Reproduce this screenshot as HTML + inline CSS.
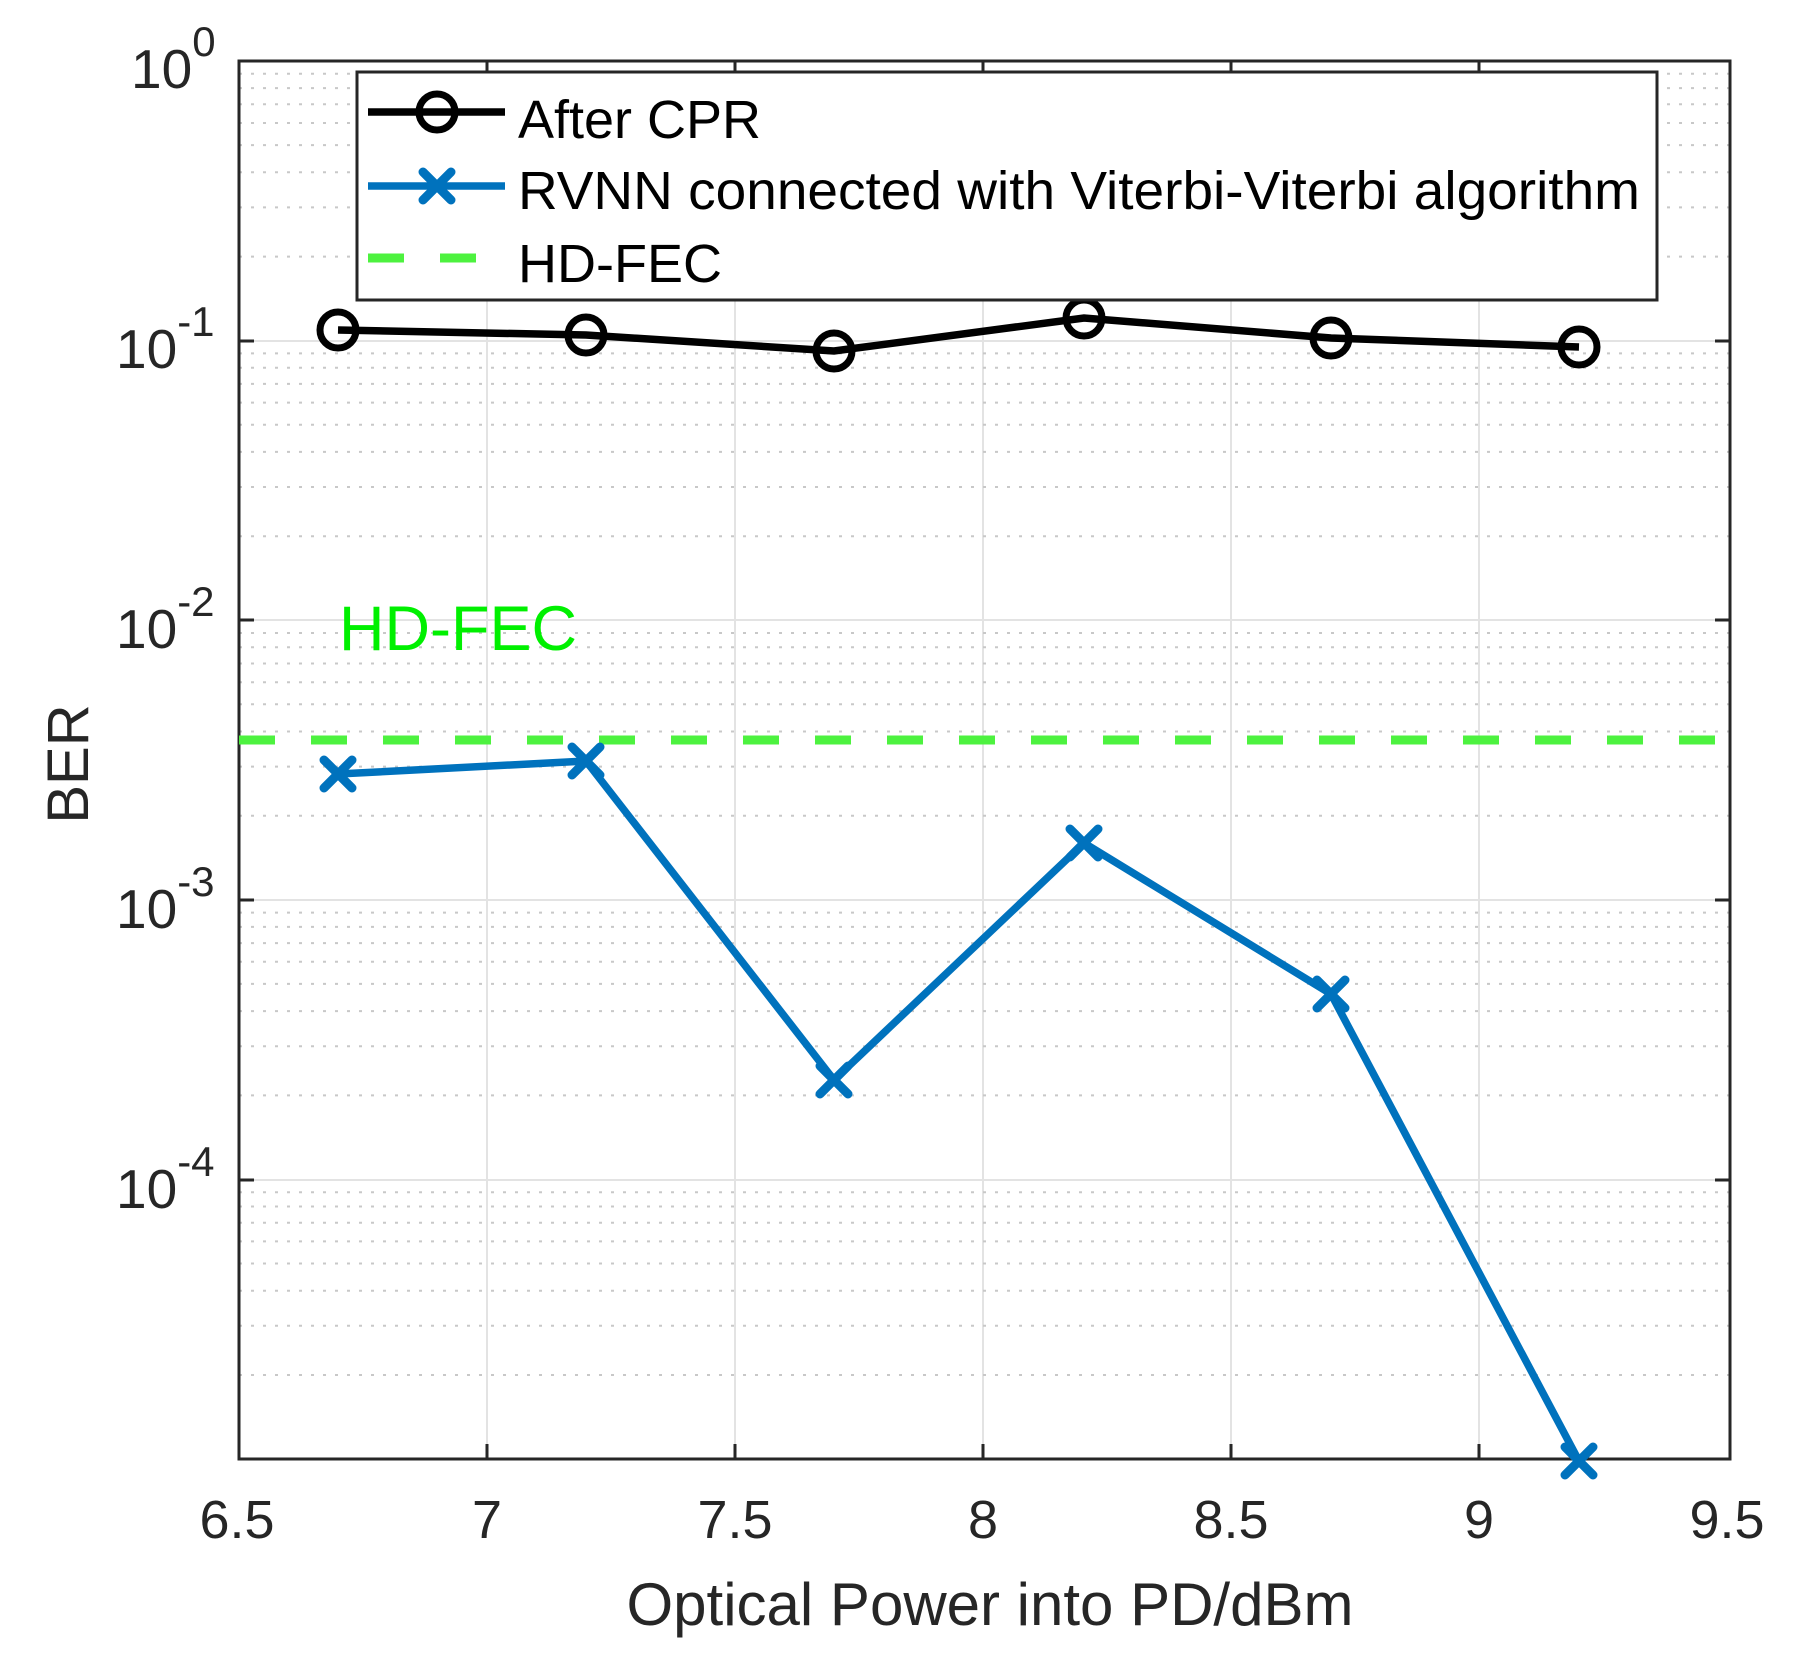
<!DOCTYPE html>
<html><head><meta charset="utf-8"><style>html,body{margin:0;padding:0;background:#fff}svg{display:block}</style></head>
<body>
<svg width="1803" height="1667" viewBox="0 0 1803 1667" xmlns="http://www.w3.org/2000/svg" font-family="Liberation Sans, Arial, sans-serif">
<rect width="1803" height="1667" fill="#fff"/>
<g stroke="#e3e3e3" stroke-width="2">
<line x1="487" y1="61" x2="487" y2="1459"/>
<line x1="735" y1="61" x2="735" y2="1459"/>
<line x1="983" y1="61" x2="983" y2="1459"/>
<line x1="1231" y1="61" x2="1231" y2="1459"/>
<line x1="1479" y1="61" x2="1479" y2="1459"/>
<line x1="239" y1="341" x2="1730" y2="341"/>
<line x1="239" y1="620" x2="1730" y2="620"/>
<line x1="239" y1="900" x2="1730" y2="900"/>
<line x1="239" y1="1180" x2="1730" y2="1180"/>
</g>
<g stroke="#c8c8c8" stroke-width="2" stroke-dasharray="3,9">
<line x1="239" x2="1730" y1="73.8" y2="73.8"/><line x1="239" x2="1730" y1="88.1" y2="88.1"/><line x1="239" x2="1730" y1="104.3" y2="104.3"/><line x1="239" x2="1730" y1="123.0" y2="123.0"/><line x1="239" x2="1730" y1="145.1" y2="145.1"/><line x1="239" x2="1730" y1="172.3" y2="172.3"/><line x1="239" x2="1730" y1="207.4" y2="207.4"/><line x1="239" x2="1730" y1="256.6" y2="256.6"/>
<line x1="239" x2="1730" y1="353.4" y2="353.4"/><line x1="239" x2="1730" y1="367.7" y2="367.7"/><line x1="239" x2="1730" y1="383.9" y2="383.9"/><line x1="239" x2="1730" y1="402.6" y2="402.6"/><line x1="239" x2="1730" y1="424.7" y2="424.7"/><line x1="239" x2="1730" y1="451.9" y2="451.9"/><line x1="239" x2="1730" y1="487.0" y2="487.0"/><line x1="239" x2="1730" y1="536.2" y2="536.2"/>
<line x1="239" x2="1730" y1="633.0" y2="633.0"/><line x1="239" x2="1730" y1="647.3" y2="647.3"/><line x1="239" x2="1730" y1="663.5" y2="663.5"/><line x1="239" x2="1730" y1="682.2" y2="682.2"/><line x1="239" x2="1730" y1="704.3" y2="704.3"/><line x1="239" x2="1730" y1="731.5" y2="731.5"/><line x1="239" x2="1730" y1="766.6" y2="766.6"/><line x1="239" x2="1730" y1="815.8" y2="815.8"/>
<line x1="239" x2="1730" y1="912.6" y2="912.6"/><line x1="239" x2="1730" y1="926.9" y2="926.9"/><line x1="239" x2="1730" y1="943.1" y2="943.1"/><line x1="239" x2="1730" y1="961.8" y2="961.8"/><line x1="239" x2="1730" y1="983.9" y2="983.9"/><line x1="239" x2="1730" y1="1011.1" y2="1011.1"/><line x1="239" x2="1730" y1="1046.2" y2="1046.2"/><line x1="239" x2="1730" y1="1095.4" y2="1095.4"/>
<line x1="239" x2="1730" y1="1192.2" y2="1192.2"/><line x1="239" x2="1730" y1="1206.5" y2="1206.5"/><line x1="239" x2="1730" y1="1222.7" y2="1222.7"/><line x1="239" x2="1730" y1="1241.4" y2="1241.4"/><line x1="239" x2="1730" y1="1263.5" y2="1263.5"/><line x1="239" x2="1730" y1="1290.7" y2="1290.7"/><line x1="239" x2="1730" y1="1325.8" y2="1325.8"/><line x1="239" x2="1730" y1="1375.0" y2="1375.0"/>
</g>
<rect x="239" y="61" width="1491" height="1398" fill="none" stroke="#262626" stroke-width="3"/>
<g stroke="#262626" stroke-width="3">
<line x1="487" y1="1459" x2="487" y2="1444"/><line x1="735" y1="1459" x2="735" y2="1444"/><line x1="983" y1="1459" x2="983" y2="1444"/><line x1="1231" y1="1459" x2="1231" y2="1444"/><line x1="1479" y1="1459" x2="1479" y2="1444"/>
<line x1="487" y1="61" x2="487" y2="76"/><line x1="735" y1="61" x2="735" y2="76"/><line x1="983" y1="61" x2="983" y2="76"/><line x1="1231" y1="61" x2="1231" y2="76"/><line x1="1479" y1="61" x2="1479" y2="76"/>
<line x1="239" y1="341" x2="254" y2="341"/><line x1="239" y1="620" x2="254" y2="620"/><line x1="239" y1="900" x2="254" y2="900"/><line x1="239" y1="1180" x2="254" y2="1180"/>
<line x1="1730" y1="341" x2="1715" y2="341"/><line x1="1730" y1="620" x2="1715" y2="620"/><line x1="1730" y1="900" x2="1715" y2="900"/><line x1="1730" y1="1180" x2="1715" y2="1180"/>
</g>
<g fill="#262626" font-size="54" text-anchor="middle">
<text x="237" y="1538">6.5</text><text x="487" y="1538">7</text><text x="735" y="1538">7.5</text><text x="983" y="1538">8</text><text x="1231" y="1538">8.5</text><text x="1479" y="1538">9</text><text x="1727" y="1538">9.5</text>
</g>
<g fill="#262626" font-size="55">
<text x="131" y="88">10<tspan font-size="42" dy="-32">0</tspan></text>
<text x="116" y="368">10<tspan font-size="42" dy="-32">-1</tspan></text>
<text x="116" y="648">10<tspan font-size="42" dy="-32">-2</tspan></text>
<text x="116" y="928">10<tspan font-size="42" dy="-32">-3</tspan></text>
<text x="116" y="1208">10<tspan font-size="42" dy="-32">-4</tspan></text>
</g>
<text x="990" y="1625" font-size="60" fill="#262626" text-anchor="middle">Optical Power into PD/dBm</text>
<text transform="translate(88,764) rotate(-90)" font-size="58" fill="#262626" text-anchor="middle">BER</text>
<line x1="239" y1="740" x2="1730" y2="740" stroke="#4df23f" stroke-width="9" stroke-dasharray="36,36"/>
<text x="339" y="650" font-size="63" fill="#00f000">HD-FEC</text>
<polyline points="338,330 586,335 834,351 1084,318 1331,338 1579,347" fill="none" stroke="#000" stroke-width="7.5"/>
<g fill="none" stroke="#000" stroke-width="7">
<circle cx="338" cy="330" r="18"/><circle cx="586" cy="335" r="18"/><circle cx="834" cy="351" r="18"/><circle cx="1084" cy="318" r="18"/><circle cx="1331" cy="338" r="18"/><circle cx="1579" cy="347" r="18"/>
</g>
<polyline points="338,774 586,761 834,1080 1084,843 1331,994 1579,1461" fill="none" stroke="#0072BD" stroke-width="7.5" stroke-linejoin="round"/>
<g stroke="#0072BD" stroke-width="9" stroke-linecap="round">
<path d="M324,760 l28,28 M352,760 l-28,28"/>
<path d="M572,747 l28,28 M600,747 l-28,28"/>
<path d="M820,1066 l28,28 M848,1066 l-28,28"/>
<path d="M1070,829 l28,28 M1098,829 l-28,28"/>
<path d="M1317,980 l28,28 M1345,980 l-28,28"/>
<path d="M1565,1447 l28,28 M1593,1447 l-28,28"/>
</g>
<rect x="357" y="72" width="1300" height="228" fill="#fff" stroke="#262626" stroke-width="3"/>
<line x1="368" y1="112" x2="505" y2="112" stroke="#000" stroke-width="7.5"/>
<circle cx="437" cy="112" r="18" fill="none" stroke="#000" stroke-width="7"/>
<line x1="368" y1="186" x2="505" y2="186" stroke="#0072BD" stroke-width="7.5"/>
<path d="M423,172 l28,28 M451,172 l-28,28" stroke="#0072BD" stroke-width="9" stroke-linecap="round"/>
<line x1="368" y1="258" x2="505" y2="258" stroke="#4df23f" stroke-width="9" stroke-dasharray="36,36"/>
<g font-size="54" fill="#000">
<text x="518" y="138">After CPR</text>
<text x="518" y="209" textLength="1122" lengthAdjust="spacingAndGlyphs">RVNN connected with Viterbi-Viterbi algorithm</text>
<text x="518" y="282">HD-FEC</text>
</g>
</svg>
</body></html>
